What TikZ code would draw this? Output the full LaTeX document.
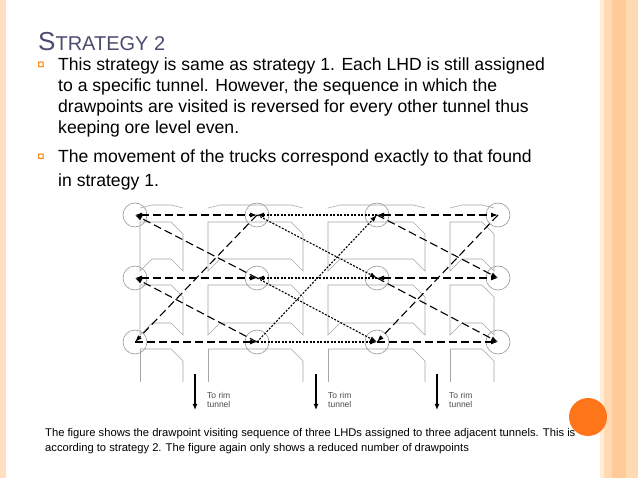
\documentclass[tikz,border=0pt]{standalone}
\usepackage{fontspec}
\setmainfont{Liberation Sans}
\usetikzlibrary{arrows.meta}
\begin{document}
\begin{tikzpicture}[x=1pt,y=-1pt,
  wall/.style={draw=gray!70,line width=0.6pt},
  dp/.style={circle,draw=gray!80,line width=0.6pt,minimum size=24pt,inner sep=0pt},
  ld/.style={line width=1.1pt,dash pattern=on 8pt off 4pt,-{Latex[length=7pt,width=5pt]}},
  ldd/.style={ld,{Latex[length=7pt,width=5pt]}-{Latex[length=7pt,width=5pt]}},
  dt/.style={line width=1.1pt,dash pattern=on 2pt off 1.5pt,-{Latex[length=7pt,width=5pt]}},
  txt/.style={font=\fontsize{17.6}{21}\selectfont,align=left,anchor=north west,inner sep=0pt}]
\useasboundingbox (0,0) rectangle (638,478);
\fill[white] (0,0) rectangle (638,478);
\fill[orange!25] (0,0) rectangle (6,478);
\fill[orange!30] (604,0) rectangle (638,478);
\fill[orange!15] (600,0) rectangle (604,478);
\fill[orange!40] (612,0) rectangle (626,478);
\fill[orange!80!red!90] (588,417) circle (19);
\node[anchor=west,inner sep=0pt,text=black!65!blue!40!gray,font=\fontsize{26}{30}\selectfont] (title) at (38,42) {S\fontsize{20}{24}\selectfont TRATEGY 2};
\node[txt,text=orange] (b1) at (37,62) {\fontsize{14}{16}\selectfont ¤};
\node[txt] (t1) at (58,58) {This strategy is same as strategy 1. Each LHD is still assigned\\to a specific tunnel. However, the sequence in which the\\drawpoints are visited is reversed for every other tunnel thus\\keeping ore level even.};
\node[txt,text=orange] (b2) at (37,154) {\fontsize{14}{16}\selectfont ¤};
\node[txt,align=left] (t2) at (58,150) {The movement of the trucks correspond exactly to that found\\[3pt]in strategy 1.};
% pillars
\foreach \xl/\xr in {140/183,208/303,328/425,450/494}{
  \foreach \yt/\yb in {222/271,285/335}{
    \draw[wall] (\xl,\yb) -- (\xl,\yt) -- (\xr-12,\yt) -- (\xr,\yt+12) -- (\xr,\yb) -- (\xr-12,\yb-12) -- (\xl+12,\yb-12) -- cycle;
  }
  \draw[wall] (\xl,208) -- (\xl+12,205) -- (\xr-12,205) -- (\xr,208);
  \draw[wall] (\xl,349) -- (\xr-12,349) -- (\xr,361) -- (\xr,382);
  \draw[wall] (\xl,349) -- (\xl,382);
}
\foreach \x/\n in {135/a,257/b,377/c,498/d}{
  \node[dp] (\n1) at (\x,215) {};
  \node[dp] (\n2) at (\x,278) {};
  \node[dp] (\n3) at (\x,342) {};
}
% long dashed
\draw[ldd] (a1.center) -- (b1.center);
\draw[ldd] (c1.center) -- (d1.center);
\draw[ldd] (a2.center) -- (b2.center);
\draw[ldd] (c2.center) -- (d2.center);
\draw[ld] (a3.center) -- (b3.center);
\draw[ld] (c3.center) -- (d3.center);
\draw[ld] (b2.center) -- (a1.center);
\draw[ld] (b3.center) -- (a2.center);
\draw[ld] (b1.center) -- (a3.center);
\draw[ld] (c1.center) -- (d2.center);
\draw[ld] (c2.center) -- (d3.center);
\draw[ld] (d1.center) -- (c3.center);
% dotted
\draw[dt] (c1.center) -- (b1.center);
\draw[dt] (c2.center) -- (b2.center);
\draw[dt] (b3.center) -- (c3.center);
\draw[dt] (b1.center) -- (c2.center);
\draw[dt] (b2.center) -- (c3.center);
\draw[dt] (b3.center) -- (c1.center);
% rim arrows
\foreach \x/\n in {195/r1,316/r2,437/r3}{
  \coordinate (\n s) at (\x,374);
  \coordinate (\n e) at (\x,410);
  \draw[line width=1.4pt,-{Latex[length=6pt,width=5pt]}] (\n s) -- (\n e);
  \node[anchor=north west,font=\fontsize{8.5}{9.5}\selectfont,align=left,inner sep=0pt,text=gray!60!black] (\n t) at (\x+12,392) {To rim\\tunnel};
}
\node[anchor=north west,font=\fontsize{11.2}{15}\selectfont,align=left,inner sep=0pt] (cap) at (45,428) {The figure shows the drawpoint visiting sequence of three LHDs assigned to three adjacent tunnels. This is\\according to strategy 2. The figure again only shows a reduced number of drawpoints};
\end{tikzpicture}
\end{document}
